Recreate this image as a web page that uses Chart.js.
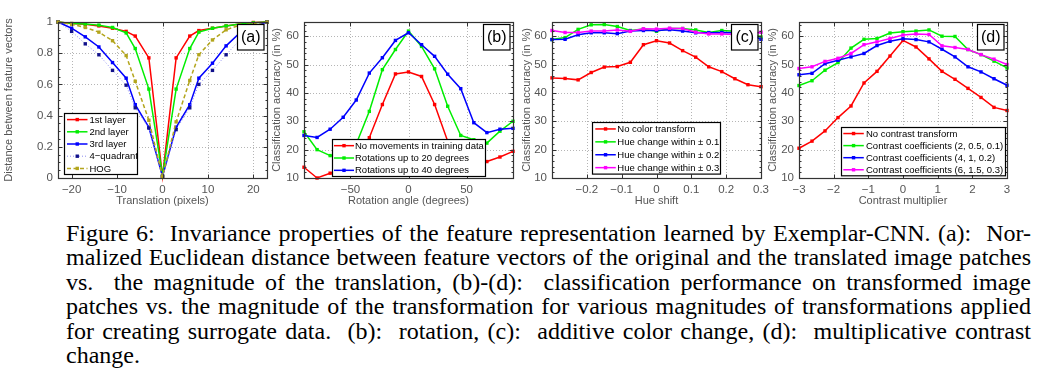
<!DOCTYPE html>
<html lang="en">
<head>
    <meta charset="UTF-8">
    <title>Figure 6 - Invariance properties</title>
    <script src="https://cdn.jsdelivr.net/npm/chart.js@4.4.1/dist/chart.umd.min.js"></script>
    <style>
        html, body { margin: 0; padding: 0; background: #fff; }
        body { width: 1037px; height: 391px; position: relative; overflow: hidden; }
        .panel { position: absolute; top: 0; }
        #caption {
            position: absolute; left: 66px; top: 221px; width: 965px;
            transform-origin: 0 0;
            font-family: 'Liberation Serif', 'Times New Roman', serif;
            font-size: 24px; line-height: 24.4px; color: #000;
        }
        #caption div { text-align: justify; text-align-last: justify; white-space: nowrap; }
        #caption div.last { text-align-last: left; }
    </style>
</head>
<body>
    <canvas id="chartA" class="panel" width="272" height="212" style="left:0px"></canvas>
    <canvas id="chartB" class="panel" width="254" height="212" style="left:266px"></canvas>
    <canvas id="chartC" class="panel" width="257" height="212" style="left:518px"></canvas>
    <canvas id="chartD" class="panel" width="273" height="212" style="left:764px"></canvas>

    <div id="caption">
        <div><span>Figure 6:&nbsp; Invariance properties of the feature representation learned by Exemplar-CNN. (a):&nbsp; Nor-</span></div>
        <div><span>malized Euclidean distance between feature vectors of the original and the translated image patches</span></div>
        <div><span>vs.&nbsp; the magnitude of the translation, (b)-(d):&nbsp; classification performance on transformed image</span></div>
        <div><span>patches vs. the magnitude of the transformation for various magnitudes of transformations applied</span></div>
        <div><span>for creating surrogate data.&nbsp; (b):&nbsp; rotation, (c):&nbsp; additive color change, (d):&nbsp; multiplicative contrast</span></div>
        <div class="last"><span>change.</span></div>
    </div>

    <script>
        // (a) distancia vs traslacion
        const translation = [-23, -20, -17, -14, -11, -8, -6, -3, 0, 3, 6, 8, 11, 14, 17, 20, 23];
        const layer1 = [1.0, 0.99, 0.985, 0.975, 0.96, 0.94, 0.91, 0.77, 0.01, 0.77, 0.91, 0.945, 0.96, 0.975, 0.987, 0.997, 1.0];
        const layer2 = [1.0, 0.99, 0.987, 0.98, 0.965, 0.93, 0.83, 0.57, 0.015, 0.57, 0.83, 0.935, 0.96, 0.975, 0.987, 0.995, 1.0];
        const layer3 = [1.0, 0.96, 0.905, 0.84, 0.74, 0.64, 0.47, 0.325, 0.01, 0.325, 0.47, 0.64, 0.736, 0.847, 0.93, 0.97, 1.0];
        const quadrant4 = [1.0, 0.94, 0.86, 0.79, 0.69, 0.595, 0.45, 0.32, 0.01, 0.31, 0.45, 0.6, 0.69, 0.79, 0.885, 0.95, 1.0];
        const hog = [1.0, 0.985, 0.965, 0.935, 0.88, 0.785, 0.62, 0.37, 0.01, 0.36, 0.625, 0.79, 0.885, 0.95, 0.98, 0.99, 1.0];

        // (b) rotacion
        const rotAngle = [-90, -78.75, -67.5, -56.25, -45, -33.75, -22.5, -11.25, 0, 11.25, 22.5, 33.75, 45, 56.25, 67.5, 78.75, 90];
        const noMovement = [13.8, 10.0, 11.7, 13.0, 16.0, 24.2, 35.9, 46.7, 47.4, 45.8, 35.9, 23.0, 16.0, 14.5, 15.8, 17.4, 19.4];
        const rot20 = [26.3, 20.0, 17.9, 17.5, 22.0, 33.5, 48.2, 55.3, 61.8, 56.4, 48.5, 35.3, 25.0, 23.5, 22.3, 26.5, 30.0];
        const rot40 = [25.0, 24.3, 27.2, 31.4, 37.5, 47.0, 52.4, 58.5, 61.2, 57.0, 52.9, 46.6, 41.5, 29.5, 26.0, 27.2, 27.5];

        // (c) tono
        const hueShift = [-0.3, -0.2625, -0.225, -0.1875, -0.15, -0.1125, -0.075, -0.0375, 0, 0.0375, 0.075, 0.1125, 0.15, 0.1875, 0.225, 0.2625, 0.3];
        const noColor = [45.3, 45.1, 44.6, 47.2, 49.1, 49.3, 50.8, 57.0, 58.4, 57.6, 54.9, 52.6, 49.2, 47.5, 45.0, 42.9, 42.2];
        const hue01 = [58.8, 59.5, 62.4, 64.0, 64.1, 63.4, 62.0, 62.5, 61.7, 62.7, 62.7, 62.2, 61.3, 62.0, 61.7, 61.1, 59.7];
        const hue02 = [58.8, 58.9, 60.5, 61.2, 61.2, 60.9, 61.8, 62.0, 62.0, 62.3, 61.8, 61.2, 61.2, 61.3, 61.2, 61.1, 58.9];
        const hue03 = [62.0, 61.3, 61.3, 61.8, 61.8, 62.2, 61.7, 62.6, 62.5, 62.8, 62.7, 61.4, 60.8, 60.8, 60.6, 60.9, 61.4];

        // (d) contraste
        const contrastMult = [-3, -2.625, -2.25, -1.875, -1.5, -1.125, -0.75, -0.375, 0, 0.375, 0.75, 1.125, 1.5, 1.875, 2.25, 2.625, 3];
        const noContrast = [20.5, 23.0, 26.6, 31.3, 35.4, 43.5, 47.6, 53.0, 58.5, 56.2, 52.0, 47.6, 44.8, 41.6, 38.4, 34.9, 33.8];
        const coef1 = [42.6, 44.3, 48.0, 50.7, 55.8, 58.9, 59.2, 61.1, 61.6, 61.8, 62.2, 60.0, 59.9, 55.3, 53.5, 51.2, 48.8];
        const coef2 = [46.4, 46.9, 50.3, 51.5, 52.7, 53.9, 56.7, 58.2, 59.1, 58.8, 58.0, 55.4, 52.7, 49.2, 47.4, 45.0, 42.7];
        const coef3 = [48.6, 49.2, 51.1, 52.2, 53.9, 57.0, 58.0, 59.2, 60.4, 60.8, 60.6, 56.6, 56.0, 55.3, 53.5, 51.9, 50.0];

        // ticks
        const ticksTransX = [-20, -10, 0, 10, 20];
        const ticksDistY = [0, 0.2, 0.4, 0.6, 0.8, 1];
        const ticksRotX = [-50, 0, 50];
        const ticksHueX = [-0.2, -0.1, 0, 0.1, 0.2, 0.3];
        const ticksContrastX = [-3, -2, -1, 0, 1, 2, 3];
        const ticksAccY = [10, 20, 30, 40, 50, 60];

        Chart.defaults.font.family = "'Liberation Sans', Arial, sans-serif";

        const fmt = v => String(Math.round(v * 1000) / 1000).replace('-', '\u2212');

        function serie(xs, ys) {
            return xs.map((x, i) => ({ x: x, y: ys[i] }));
        }

        function ds(label, xs, ys, color, extra) {
            return Object.assign({
                label: label,
                data: serie(xs, ys),
                borderColor: color,
                backgroundColor: color,
                pointBackgroundColor: color,
                pointBorderColor: color,
                borderWidth: 1.5,
                pointStyle: 'rect',
                pointRadius: 2.4,
                pointBorderWidth: 0,
                tension: 0,
                clip: false
            }, extra || {});
        }

        // marco estilo matlab: rejilla punteada, caja, marcas, leyenda y etiqueta
        const matlabFrame = {
            id: 'matlab',
            beforeDatasetsDraw(chart, args, o) {
                const { ctx, chartArea: a, scales: { x, y } } = chart;
                ctx.save();
                ctx.strokeStyle = '#b5b5b5';
                ctx.lineWidth = 1;
                ctx.setLineDash([1, 2]);
                ctx.beginPath();
                x.ticks.forEach(t => {
                    const px = Math.round(x.getPixelForValue(t.value)) + 0.5;
                    if (px > a.left + 2 && px < a.right - 2) { ctx.moveTo(px, a.top); ctx.lineTo(px, a.bottom); }
                });
                y.ticks.forEach(t => {
                    const py = Math.round(y.getPixelForValue(t.value)) + 0.5;
                    if (py > a.top + 2 && py < a.bottom - 2) { ctx.moveTo(a.left, py); ctx.lineTo(a.right, py); }
                });
                ctx.stroke();
                ctx.restore();
            },
            afterDatasetsDraw(chart, args, o) {
                const { ctx, chartArea: a, scales: { x, y } } = chart;
                const L = Math.round(a.left) + 0.5, R = Math.round(a.right) + 0.5;
                const T = Math.round(a.top) + 0.5, B = Math.round(a.bottom) + 0.5;
                ctx.save();
                ctx.strokeStyle = '#333';
                ctx.lineWidth = 1;
                ctx.beginPath();
                x.ticks.forEach(t => {
                    const px = Math.round(x.getPixelForValue(t.value)) + 0.5;
                    ctx.moveTo(px, B); ctx.lineTo(px, B - 4);
                    ctx.moveTo(px, T); ctx.lineTo(px, T + 4);
                });
                y.ticks.forEach(t => {
                    const py = Math.round(y.getPixelForValue(t.value)) + 0.5;
                    ctx.moveTo(L, py); ctx.lineTo(L + 4, py);
                    ctx.moveTo(R, py); ctx.lineTo(R - 4, py);
                });
                for (let v = y.min; v <= y.max + 1e-9; v += o.yMinor) {
                    const py = Math.round(y.getPixelForValue(v)) + 0.5;
                    ctx.moveTo(L, py); ctx.lineTo(L + 2, py);
                    ctx.moveTo(R, py); ctx.lineTo(R - 2, py);
                }
                ctx.stroke();
                ctx.lineWidth = 1.2;
                ctx.strokeRect(L, T, R - L, B - T);

                // leyenda
                const lg = o.legend;
                const bx = Math.round(a.left + lg.dx), by = Math.round(a.bottom - lg.dy - lg.h);
                ctx.fillStyle = '#fff';
                ctx.fillRect(bx, by, lg.w, lg.h);
                ctx.strokeStyle = '#000';
                ctx.lineWidth = 1.2;
                ctx.strokeRect(bx + 0.5, by + 0.5, lg.w, lg.h);
                const dsets = chart.data.datasets;
                const rh = lg.h / dsets.length;
                ctx.font = "9.5px 'Liberation Sans', Arial, sans-serif";
                ctx.textBaseline = 'middle';
                dsets.forEach((d, i) => {
                    const cy = by + rh * (i + 0.5) + 0.5;
                    const sx = bx + lg.sx;
                    ctx.strokeStyle = d.borderColor;
                    ctx.lineWidth = d.borderWidth;
                    ctx.setLineDash(d.borderDash || []);
                    ctx.beginPath();
                    ctx.moveTo(sx, cy); ctx.lineTo(sx + lg.sample, cy);
                    ctx.stroke();
                    ctx.setLineDash([]);
                    ctx.fillStyle = d.pointBackgroundColor;
                    ctx.fillRect(sx + lg.sample / 2 - 1.7, cy - 1.7, 3.4, 3.4);
                    ctx.fillStyle = '#000';
                    ctx.fillText(d.label, bx + lg.textX, cy + 0.5);
                });

                // etiqueta del panel
                const tw = 26.5, th = 25.5;
                const tx = Math.round(a.right - 4 - tw), ty = Math.round(a.top + 1.5);
                ctx.fillStyle = '#fff';
                ctx.fillRect(tx, ty, tw, th);
                ctx.strokeStyle = '#000';
                ctx.lineWidth = 1.2;
                ctx.strokeRect(tx + 0.5, ty + 0.5, tw, th);
                ctx.fillStyle = '#000';
                ctx.font = "16px 'Liberation Sans', Arial, sans-serif";
                ctx.textAlign = 'center';
                ctx.fillText(o.tag, tx + tw / 2 + 0.5, ty + th / 2 + 1);
                ctx.restore();
            }
        };

        function makePanel(id, cfg) {
            const n = cfg.datasets.length;
            cfg.datasets.forEach((d, i) => { d.order = n - i; });
            return new Chart(document.getElementById(id), {
                type: 'line',
                data: { datasets: cfg.datasets },
                options: {
                    responsive: false,
                    animation: false,
                    events: [],
                    layout: { padding: { top: 22, right: cfg.padRight, left: 0, bottom: 0 } },
                    plugins: {
                        legend: { display: false },
                        tooltip: { enabled: false },
                        matlab: { yMinor: cfg.yMinor, legend: cfg.legend, tag: cfg.tag }
                    },
                    scales: {
                        x: {
                            type: 'linear',
                            min: cfg.xMin,
                            max: cfg.xMax,
                            afterBuildTicks: s => { s.ticks = cfg.xTicks.map(v => ({ value: v })); },
                            afterFit: s => { s.height = 34; },
                            grid: { display: false, drawTicks: false },
                            border: { display: false },
                            ticks: { padding: 5, color: '#555', font: { size: 11.5 }, callback: fmt, maxRotation: 0, autoSkip: false },
                            title: { display: true, text: cfg.xTitle, color: '#555', font: { size: 11 }, padding: { top: 0, bottom: 4.4 } }
                        },
                        y: {
                            type: 'linear',
                            min: cfg.yMin,
                            max: cfg.yMax,
                            afterBuildTicks: s => { s.ticks = cfg.yTicks.map(v => ({ value: v })); },
                            afterFit: s => { s.width = cfg.yWidth; },
                            grid: { display: false, drawTicks: false },
                            border: { display: false },
                            ticks: { padding: 5, color: '#555', font: { size: 11.5 }, callback: fmt, autoSkip: false },
                            title: { display: true, text: cfg.yTitle, color: '#555', font: { size: 11 }, padding: { top: cfg.yTitlePad, bottom: 0 } }
                        }
                    }
                },
                plugins: [matlabFrame]
            });
        }

        const accTitle = 'Classification accuracy (in %)';

        makePanel('chartA', {
            datasets: [
                ds('1st layer', translation, layer1, '#ff0000'),
                ds('2nd layer', translation, layer2, '#00ee00'),
                ds('3rd layer', translation, layer3, '#0000ff'),
                ds('4\u2212quadrant', translation, quadrant4, '#8c8cf0', { borderWidth: 1, borderDash: [1, 2], pointBackgroundColor: '#10108a', pointBorderColor: '#10108a' }),
                ds('HOG', translation, hog, '#b3a51c', { borderDash: [4, 2.5] })
            ],
            xMin: -23, xMax: 23, xTicks: ticksTransX, xTitle: 'Translation (pixels)',
            yMin: 0, yMax: 1, yTicks: ticksDistY, yTitle: 'Distance between feature vectors',
            yWidth: 58, yTitlePad: 2.4, padRight: 5, yMinor: 0.05, tag: '(a)',
            legend: { dx: 6, dy: 4, w: 73, h: 61, sx: 3, sample: 20.5, textX: 25.5 }
        });

        makePanel('chartB', {
            datasets: [
                ds('No movements in training data', rotAngle, noMovement, '#ff0000'),
                ds('Rotations up to 20 degrees', rotAngle, rot20, '#00ee00'),
                ds('Rotations up to 40 degrees', rotAngle, rot40, '#0000ff')
            ],
            xMin: -90, xMax: 90, xTicks: ticksRotX, xTitle: 'Rotation angle (degrees)',
            yMin: 10, yMax: 65, yTicks: ticksAccY, yTitle: accTitle,
            yWidth: 38, yTitlePad: 4.4, padRight: 7, yMinor: 2, tag: '(b)',
            legend: { dx: 28, dy: 2.3, w: 153, h: 37, sx: 2, sample: 20, textX: 23 }
        });

        makePanel('chartC', {
            datasets: [
                ds('No color transform', hueShift, noColor, '#ff0000'),
                ds('Hue change within \u00b1 0.1', hueShift, hue01, '#00ee00'),
                ds('Hue change within \u00b1 0.2', hueShift, hue02, '#0000ff'),
                ds('Hue change within \u00b1 0.3', hueShift, hue03, '#ff00ff')
            ],
            xMin: -0.3, xMax: 0.3, xTicks: ticksHueX, xTitle: 'Hue shift',
            yMin: 10, yMax: 65, yTicks: ticksAccY, yTitle: accTitle,
            yWidth: 34, yTitlePad: 2.4, padRight: 14, yMinor: 2, tag: '(c)',
            legend: { dx: 40, dy: 4, w: 128, h: 51.6, sx: 3.3, sample: 20.5, textX: 25.3 }
        });

        makePanel('chartD', {
            datasets: [
                ds('No contrast transform', contrastMult, noContrast, '#ff0000'),
                ds('Contrast coefficients (2, 0.5, 0.1)', contrastMult, coef1, '#00ee00'),
                ds('Contrast coefficients (4, 1, 0.2)', contrastMult, coef2, '#0000ff'),
                ds('Contrast coefficients (6, 1.5, 0.3)', contrastMult, coef3, '#ff00ff')
            ],
            xMin: -3, xMax: 3, xTicks: ticksContrastX, xTitle: 'Contrast multiplier',
            yMin: 10, yMax: 65, yTicks: ticksAccY, yTitle: accTitle,
            yWidth: 35, yTitlePad: 2.4, padRight: 30, yMinor: 2, tag: '(d)',
            legend: { dx: 42, dy: 3, w: 164, h: 48.3, sx: 2.3, sample: 20.5, textX: 25 }
        });

        // Ajustar el pie de figura: compresion horizontal para que la linea mas larga ocupe el ancho
        (function ajustarPie() {
            const pie = document.getElementById('caption');
            const anchoFinal = 965;
            const lineas = Array.from(pie.querySelectorAll('div:not(.last) span'));
            const maxAncho = Math.max(...lineas.map(s => s.getBoundingClientRect().width));
            const escala = Math.min(1, anchoFinal / maxAncho);
            pie.style.width = (anchoFinal / escala) + 'px';
            pie.style.transform = 'scaleX(' + escala + ')';
        })();
    </script>
</body>
</html>
